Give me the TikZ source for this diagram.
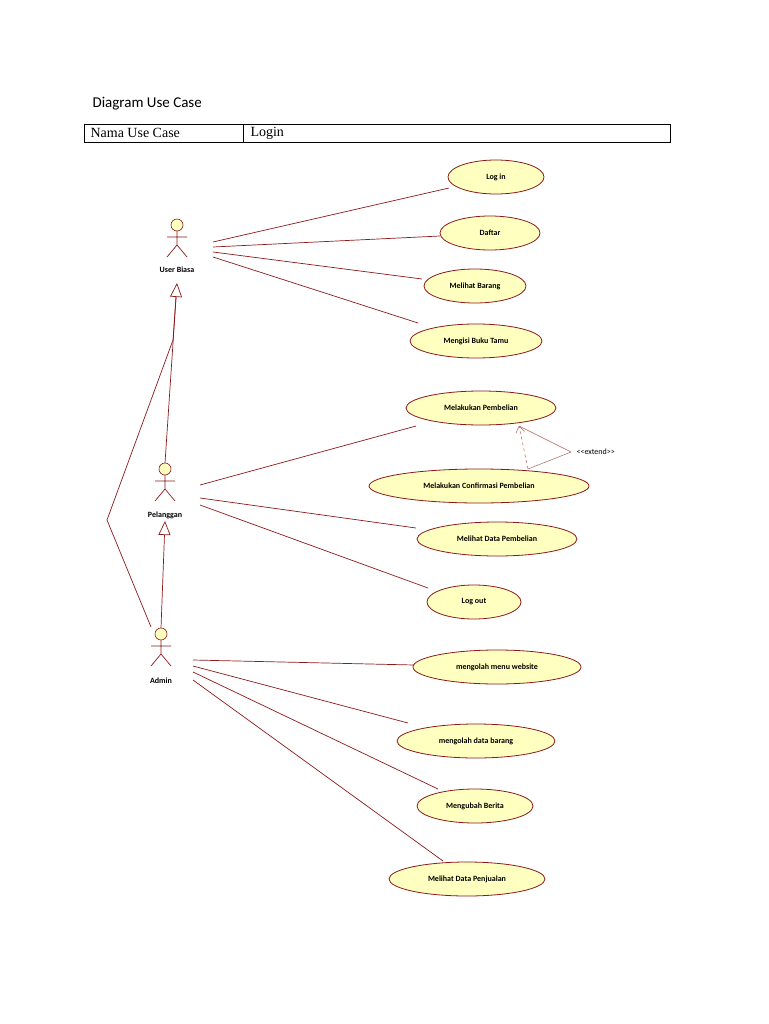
\documentclass[tikz,border=0pt]{standalone}
\usepackage{fontspec}
\setmainfont{Liberation Serif}
\newfontfamily\uisans{Carlito}
\usetikzlibrary{shapes.geometric,arrows.meta}
\definecolor{ln}{HTML}{8B1A1A}
\definecolor{fillc}{HTML}{FFFFC0}
\begin{document}
\begin{tikzpicture}[x=1pt,y=-1pt,
  uc/.style={ellipse,draw=ln,fill=fillc,line width=0.8pt,inner sep=0pt,font=\uisans\bfseries\fontsize{8}{9}\selectfont},
  asc/.style={draw=ln,line width=0.7pt},
  gen/.style={draw=ln,line width=0.7pt,-{Triangle[open,length=14pt,width=12pt]}},
  alab/.style={font=\uisans\bfseries\fontsize{8}{9}\selectfont}]
\useasboundingbox (0,0) rectangle (768,1024);
\newcommand\myactor[3]{% name, x, y(head center)
  \draw[ln,fill=fillc,line width=0.6pt] (#2,#3) circle (6);
  \draw[ln,line width=0.7pt] (#2,#3+6) -- (#2,#3+20) (#2-10,#3+12) -- (#2+10,#3+12)
     (#2-10,#3+32) -- (#2,#3+20) -- (#2+10,#3+32);
  \coordinate (#1top) at (#2,#3-6);
}
\node[font=\uisans\fontsize{15}{17}\selectfont,anchor=west] (title) at (89,104) {Diagram Use Case};
\draw[black,line width=0.6pt] (84,124) rectangle (670,142);
\draw[black,line width=0.6pt] (243,124) -- (243,142);
\node[anchor=west,font=\fontsize{14}{16}\selectfont] (t1) at (87,133) {Nama Use Case};
\node[anchor=west,font=\fontsize{14}{16}\selectfont] (t2) at (247,133) {Login};

\myactor{ub}{177}{225}
\myactor{pl}{165}{469}
\myactor{ad}{161}{634}
\node[alab] (ubl) at (177,270) {User Biasa};
\node[alab] (pll) at (165,515) {Pelanggan};
\node[alab] (adl) at (161,681) {Admin};

\node[uc,minimum width=96,minimum height=34] (u1) at (496,177) {Log in};
\node[uc,minimum width=100,minimum height=34] (u2) at (490,233) {Daftar};
\node[uc,minimum width=102,minimum height=34] (u3) at (475,286) {Melihat Barang};
\node[uc,minimum width=132,minimum height=34] (u4) at (476,341) {Mengisi Buku Tamu};
\node[uc,minimum width=150,minimum height=34] (u5) at (481,408) {Melakukan Pembelian};
\node[uc,minimum width=220,minimum height=34] (u6) at (479,486) {Melakukan Confirmasi Pembelian};
\node[uc,minimum width=160,minimum height=34] (u7) at (497,539) {Melihat Data Pembelian};
\node[uc,minimum width=94,minimum height=34] (u8) at (474,602) {Log out};
\node[uc,minimum width=168,minimum height=34] (u9) at (497,667) {mengolah menu website};
\node[uc,minimum width=158,minimum height=34] (u10) at (476,741) {mengolah data barang};
\node[uc,minimum width=116,minimum height=34] (u11) at (475,806) {Mengubah Berita};
\node[uc,minimum width=156,minimum height=34] (u12) at (467,879) {Melihat Data Penjualan};

\coordinate (a1) at (213,242); \coordinate (a2) at (213,247);
\coordinate (a3) at (213,252); \coordinate (a4) at (213,257);
\coordinate (b1) at (200,485); \coordinate (b2) at (200,498); \coordinate (b3) at (200,505);
\coordinate (c1) at (193,660); \coordinate (c2) at (193,666);
\coordinate (c3) at (193,672); \coordinate (c4) at (193,680);
\draw[asc] (a1) -- (449,188);
\draw[asc] (a2) -- (440,236);
\draw[asc] (a3) -- (422,279);
\draw[asc] (a4) -- (418,323);
\draw[asc] (b1) -- (416,426);
\draw[asc] (b2) -- (416,528);
\draw[asc] (b3) -- (428,588);
\draw[asc] (c1) -- (414,665);
\draw[asc] (c2) -- (408,723);
\draw[asc] (c3) -- (438,789);
\draw[asc] (c4) -- (443,861);

\coordinate (ubtip) at (177,283);
\coordinate (pltip) at (165,521);
\coordinate (k1) at (107,520);
\draw[gen] (pltop) -- (ubtip);
\draw[gen] (adtop) -- (pltip);
\draw[asc] (151,627) -- (k1) -- (173,340) -- (176,297);

\coordinate (ex1) at (528,469);
\draw[ln!70,line width=0.5pt,dashed,-{Straight Barb[length=6pt,width=9pt]}] (ex1) -- (519,426);
\draw[ln!70,line width=0.5pt] (ex1) -- (571,452) -- (519,426);
\node[anchor=west,font=\uisans\fontsize{8}{9}\selectfont] (ext) at (573,452) {<<extend>>};
\end{tikzpicture}
\end{document}
